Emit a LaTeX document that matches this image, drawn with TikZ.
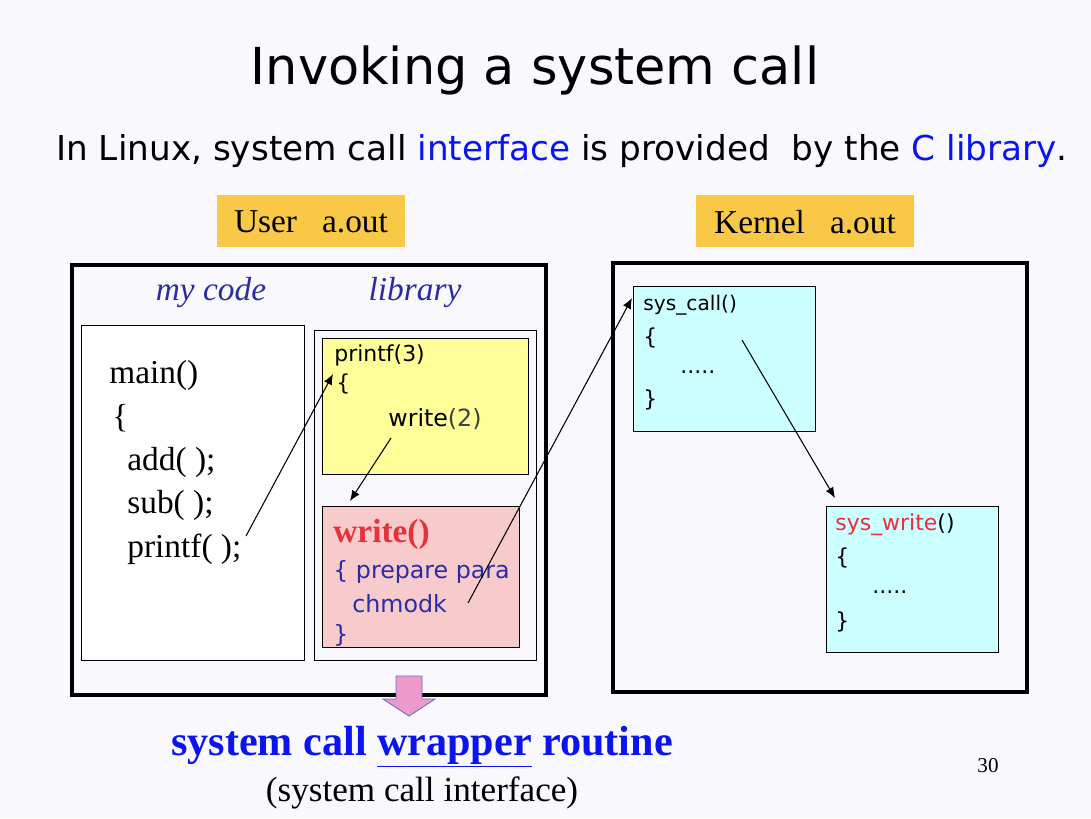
\documentclass[tikz,border=0pt]{standalone}
\usepackage{fontspec}
\setmainfont{Liberation Serif}
\newfontfamily\gsans{DejaVu Sans}
\usetikzlibrary{arrows.meta}
\definecolor{bgc}{HTML}{F8F8FD}
\definecolor{tagc}{HTML}{F9C846}
\definecolor{yelc}{HTML}{FFFF99}
\definecolor{pinkc}{HTML}{F7CBCB}
\definecolor{cyanc}{HTML}{CCFFFF}
\definecolor{navyc}{HTML}{2B2BA6}
\definecolor{bluec}{HTML}{0A14F0}
\definecolor{redc}{HTML}{E8303A}
\definecolor{arrc}{HTML}{EE99CC}
\tikzset{
  frame/.style={draw, line width=2.4pt},
  pane/.style={draw, line width=0.5pt},
  code/.style={anchor=west, inner sep=0pt, font=\gsans\fontsize{12.5}{15}\selectfont},
  serif/.style={anchor=west, inner sep=0pt, font=\fontsize{19}{21}\selectfont},
  call/.style={-{Latex[length=6pt,width=5pt]}, line width=0.6pt}
}
\begin{document}
\begin{tikzpicture}[x=0.02cm,y=-0.02cm]
  \fill[bgc] (0,0) rectangle (1091,818);
  \useasboundingbox (0,0) rectangle (1091,818);
  % title
  \node (title) at (535,70) {\gsans\fontsize{29}{36}\selectfont Invoking a system call};
  \node (sub) at (562,151) {\gsans\fontsize{19.5}{22}\selectfont In Linux, system call \textcolor{bluec}{interface} is provided\ \ by the \textcolor{bluec}{C library}.};
  % tags
  \fill[tagc] (217,195) rectangle (405,247);
  \node[font=\fontsize{19}{21}\selectfont] (user) at (311,222) {User\ \ \ a.out};
  \fill[tagc] (696,195) rectangle (914,247);
  \node[font=\fontsize{19}{21}\selectfont] (kern) at (805,222) {Kernel\ \ \ a.out};
  % user side
  \draw[frame, fill=bgc] (72,265) rectangle (546,695);
  \node[navyc, font=\itshape\fontsize{19}{21}\selectfont] (mycode) at (211,293) {my code};
  \node[navyc, font=\itshape\fontsize{19}{21}\selectfont] (lib) at (415,293) {library};
  \draw[pane, fill=white] (81,325) rectangle (304,660);
  \draw[pane] (314,330) rectangle (536,660);
  \draw[pane, fill=yelc] (322,338) rectangle (528,474);
  \draw[pane, fill=pinkc] (322,506) rectangle (519,647);
  \node[serif] (main) at (109,375) {main()};
  \node[serif] (ob) at (112,418) {\{};
  \node[serif] (add) at (127,462) {add( );};
  \node[serif] (subc) at (127,505) {sub( );};
  \node[serif] (prf) at (127,549) {printf( );};
  \node[code] (pf3) at (334,355) {printf(3)};
  \node[code] (pfo) at (336,384) {\{};
  \node[code, font=\gsans\fontsize{13.5}{16}\selectfont] (w2) at (388,419) {write\textcolor{black!75}{(2)}};
  \node[serif, redc, font=\bfseries\fontsize{19}{21}\selectfont] (wr) at (333,534) {write()};
  \node[code, navyc, font=\gsans\fontsize{13.5}{16}\selectfont] (prep) at (333,572) {\{ prepare para};
  \node[code, navyc, font=\gsans\fontsize{13.5}{16}\selectfont] (chm) at (352,604) {chmodk};
  \node[code, navyc, font=\gsans\fontsize{13.5}{16}\selectfont] (wcl) at (333,635) {\}};
  % kernel side
  \draw[frame] (613,263) rectangle (1027,692);
  \draw[pane, fill=cyanc] (633,286) rectangle (815,431);
  \node[code, font=\gsans\fontsize{11.5}{14}\selectfont] (sc) at (643,305) {sys\_call()};
  \node[code] (sco) at (643,338) {\{};
  \node[code] (scd) at (680,372) {.....};
  \node[code] (scc) at (643,400) {\}};
  \draw[pane, fill=cyanc] (826,506) rectangle (998,652);
  \node[code] (sw) at (835,525) {\textcolor{redc}{sys\_write}()};
  \node[code] (swo) at (835,558) {\{};
  \node[code] (swd) at (872,592) {.....};
  \node[code] (swc) at (835,622) {\}};
  % calls
  \coordinate (c1) at (246,536); \coordinate (c2) at (333,374);
  \coordinate (c3) at (391,438); \coordinate (c4) at (350,501);
  \coordinate (c5) at (468,603); \coordinate (c6) at (632,298);
  \coordinate (c7) at (742,340); \coordinate (c8) at (835,498);
  \draw[call] (c1) -- (c2);
  \draw[call] (c3) -- (c4);
  \draw[call] (c5) -- (c6);
  \draw[call] (c7) -- (c8);
  % wrapper
  \draw[fill=arrc, draw=navyc!70, line width=0.5pt] (396,676) -- (422,676) -- (422,699) -- (435,699)
    -- (409,716) -- (383,699) -- (396,699) -- cycle;
  \node[bluec, font=\bfseries\fontsize{24}{26}\selectfont] (wrap) at (422,747) {system call \underline{wrapper} routine};
  \node[font=\fontsize{20}{22}\selectfont] (iface) at (422,793) {(system call interface)};
  \node[font=\fontsize{12}{14}\selectfont] (pg) at (988,766) {30};
\end{tikzpicture}
\end{document}
